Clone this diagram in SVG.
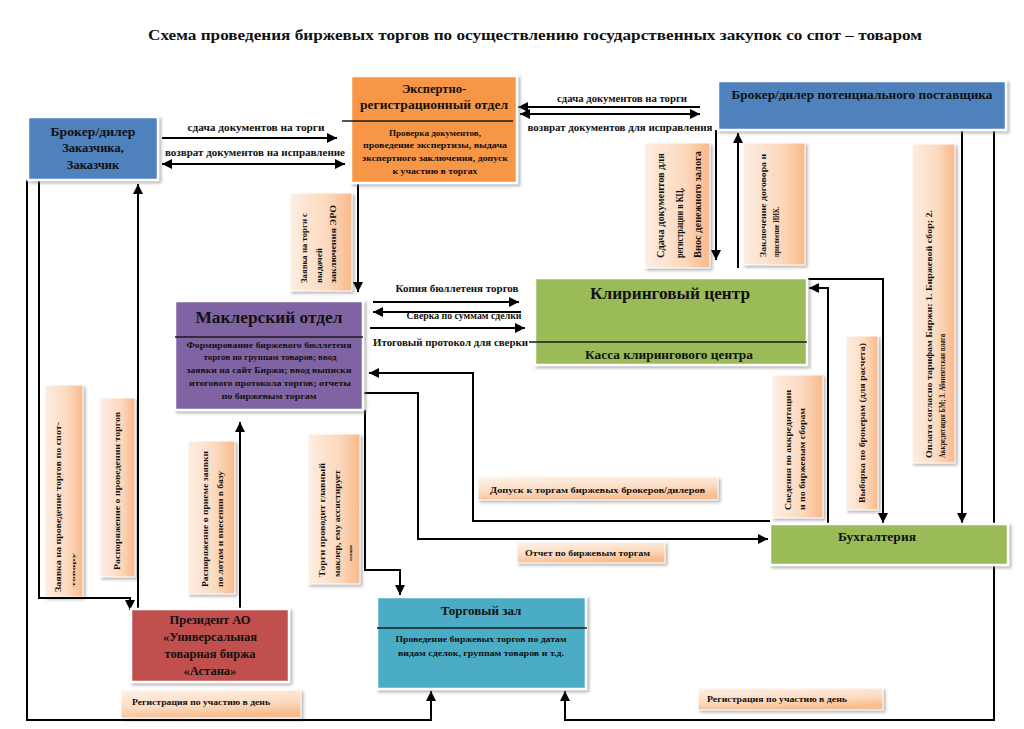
<svg xmlns="http://www.w3.org/2000/svg" width="1024" height="729" viewBox="0 0 1024 729">
<style>
.t{font-family:"Liberation Serif","DejaVu Serif",serif;font-weight:bold;fill:#111}
.c{text-anchor:middle}
.ttl{font-size:15px}
.nt{font-size:12.5px}
.sm{font-size:9px}
.lb{font-size:9px}
.box{stroke:#fff;stroke-width:2.5;filter:url(#sh)}
.lbox{fill:url(#gV);stroke:#fff;stroke-width:1;filter:url(#sh)}
.hbox{fill:url(#gH);stroke:#fff;stroke-width:1;filter:url(#sh)}
.div{stroke:#1a1a1a;stroke-width:1.3}
#connectors path{fill:none;stroke:#000;stroke-width:2}
.a{marker-end:url(#ah)}
.aa{marker-end:url(#ah);marker-start:url(#ah)}
</style>
<defs>
<filter id="sh" x="-10%" y="-10%" width="130%" height="130%">
<feDropShadow dx="2" dy="2" stdDeviation="1.5" flood-color="#777" flood-opacity="0.55"/>
</filter>
<linearGradient id="gV" x1="0" y1="0" x2="1" y2="0">
<stop offset="0" stop-color="#fdeee3"/><stop offset="0.6" stop-color="#fcd9bd"/><stop offset="1" stop-color="#f8b98a"/>
</linearGradient>
<linearGradient id="gH" x1="0" y1="0" x2="0.3" y2="1">
<stop offset="0" stop-color="#fdf1e7"/><stop offset="0.6" stop-color="#fcdcc2"/><stop offset="1" stop-color="#f8bd8e"/>
</linearGradient>
<marker id="ah" markerUnits="userSpaceOnUse" markerWidth="10" markerHeight="10" viewBox="0 0 10 10" refX="10" refY="5" orient="auto-start-reverse">
<path d="M0,0 L10,5 L0,10 z" fill="#000"/>
</marker>
</defs>
<rect width="1024" height="729" fill="#fff"/>
<text class="t ttl c" x="535" y="40" textLength="774" lengthAdjust="spacingAndGlyphs">Схема проведения биржевых торгов по осуществлению государственных закупок со спот – товаром</text>

<!-- label boxes -->
<g id="labels">
<rect class="lbox" x="290" y="193" width="62" height="98"/>
<text class="t lb" transform="translate(307,283) rotate(-90)" textLength="70" lengthAdjust="spacingAndGlyphs">Заявка на торги с</text>
<text class="t lb" transform="translate(322,283) rotate(-90)">выдачей</text>
<text class="t lb" transform="translate(336,283) rotate(-90)" textLength="78" lengthAdjust="spacingAndGlyphs">заключения ЭРО</text>

<rect class="lbox" x="645" y="143" width="65" height="125"/>
<text class="t" style="font-size:9.5px" transform="translate(664,258) rotate(-90)" textLength="105" lengthAdjust="spacingAndGlyphs">Сдача документов для</text>
<text class="t" style="font-size:9.5px" transform="translate(683,258) rotate(-90)" textLength="70" lengthAdjust="spacingAndGlyphs">регистрации в КЦ,</text>
<text class="t" style="font-size:9.5px" transform="translate(701,258) rotate(-90)" textLength="107" lengthAdjust="spacingAndGlyphs">Внос денежного залога</text>

<rect class="lbox" x="743" y="143" width="62" height="122"/>
<text class="t lb" transform="translate(766,257) rotate(-90)" textLength="103" lengthAdjust="spacingAndGlyphs">Заключение договора и</text>
<text class="t lb" transform="translate(779,257) rotate(-90)" textLength="50" lengthAdjust="spacingAndGlyphs">присвоение ИИК.</text>

<rect class="lbox" x="912" y="144" width="43" height="319"/>
<text class="t lb" transform="translate(932,458) rotate(-90)" textLength="248" lengthAdjust="spacingAndGlyphs">Оплата согласно тарифам Биржи: 1. Биржевой сбор; 2.</text>
<text class="t lb" transform="translate(945,458) rotate(-90)" textLength="124" lengthAdjust="spacingAndGlyphs">Аккредитация БМ; 3. Абонентская плата</text>

<rect class="lbox" x="45" y="385" width="38" height="212"/>
<text class="t lb" transform="translate(61,592) rotate(-90)" textLength="170" lengthAdjust="spacingAndGlyphs">Заявка на проведение торгов по спот-</text>
<text class="t" style="font-size:5px" transform="translate(75,587) rotate(-90)" textLength="34" lengthAdjust="spacingAndGlyphs">товару</text>

<rect class="lbox" x="100" y="398" width="35" height="179"/>
<text class="t lb c" transform="translate(120,491) rotate(-90)" textLength="158" lengthAdjust="spacingAndGlyphs">Распоряжение о проведении торгов</text>

<rect class="lbox" x="188" y="441" width="47" height="153"/>
<text class="t lb" transform="translate(208,587) rotate(-90)" textLength="136" lengthAdjust="spacingAndGlyphs">Распоряжение о приеме заявки</text>
<text class="t lb" transform="translate(223,587) rotate(-90)" textLength="116" lengthAdjust="spacingAndGlyphs">по лотам и внесении в базу</text>

<rect class="lbox" x="308" y="434" width="52" height="150"/>
<text class="t lb" transform="translate(325,577) rotate(-90)" textLength="114" lengthAdjust="spacingAndGlyphs">Торги проводит главный</text>
<text class="t lb" transform="translate(340,577) rotate(-90)" textLength="107" lengthAdjust="spacingAndGlyphs">маклер, ему ассистирует</text>
<text class="t" style="font-size:4.5px" transform="translate(352,561) rotate(-90)" textLength="16" lengthAdjust="spacingAndGlyphs">помощник</text>

<rect class="lbox" x="772" y="375" width="51" height="143"/>
<text class="t lb" transform="translate(791,510) rotate(-90)" textLength="120" lengthAdjust="spacingAndGlyphs">Сведения по аккредитации</text>
<text class="t lb" transform="translate(805,510) rotate(-90)" textLength="102" lengthAdjust="spacingAndGlyphs">и по биржевым сборам</text>

<rect class="lbox" x="846" y="336" width="32" height="174"/>
<text class="t lb" transform="translate(865,503) rotate(-90)" textLength="160" lengthAdjust="spacingAndGlyphs">Выборка по брокерам (для расчета)</text>

<rect class="hbox" x="478" y="477" width="240" height="23"/>
<text class="t lb" x="490" y="493" textLength="215" lengthAdjust="spacingAndGlyphs">Допуск к торгам биржевых брокеров/дилеров</text>

<rect class="hbox" x="517" y="542" width="148" height="21"/>
<text class="t lb" x="525" y="556" textLength="125" lengthAdjust="spacingAndGlyphs">Отчет по биржевым торгам</text>

<rect class="hbox" x="121" y="690" width="180" height="28"/>
<text class="t lb" x="132" y="705" textLength="138" lengthAdjust="spacingAndGlyphs">Регистрация по участию в день</text>

<rect class="hbox" x="698" y="688" width="185" height="22"/>
<text class="t lb" x="707" y="702" textLength="140" lengthAdjust="spacingAndGlyphs">Регистрация по участию в день</text>
</g>

<g id="connectors">
<path class="a" d="M162,138 H337"/>
<path class="aa" d="M162,164 H345"/>
<path class="a" d="M700,107 H518"/>
<path class="aa" d="M520,114 H700"/>
<path class="a" d="M358,184 V292"/>
<path class="a" d="M373,302 H519"/>
<path class="a" d="M521,312 H373"/>
<path class="a" d="M370,328 H525"/>
<path class="a" d="M770,521 H473 V373 H369"/>
<path class="a" d="M363,393 H418 V539 H768"/>
<path class="a" d="M365,410 V570 H400 V595"/>
<path class="a" d="M240,609 V422"/>
<path class="a" d="M138,609 V184"/>
<path class="a" d="M39,180 V598 H130 V610"/>
<path class="a" d="M27,180 V720 H431 V691"/>
<path class="a" d="M994,130 V720 H565 V691"/>
<path class="a" d="M716,130 V260"/>
<path class="a" d="M738,268 V133"/>
<path class="a" d="M962,130 V523"/>
<path class="a" d="M807,279 H883 V523"/>
<path class="a" d="M828,524 V288 H809"/>
</g>

<g id="edge-labels">
<text class="t c" style="font-size:10px" x="256" y="131" textLength="137" lengthAdjust="spacingAndGlyphs">сдача документов на торги</text>
<text class="t c" style="font-size:10px" x="255" y="156" textLength="180" lengthAdjust="spacingAndGlyphs">возврат документов на исправление</text>
<text class="t c" style="font-size:10px" x="622" y="102" textLength="130" lengthAdjust="spacingAndGlyphs">сдача документов на торги</text>
<text class="t c" style="font-size:10px" x="620" y="131" textLength="185" lengthAdjust="spacingAndGlyphs">возврат документов для исправления</text>
<text class="t c" style="font-size:10px" x="457" y="292" textLength="123" lengthAdjust="spacingAndGlyphs">Копия бюллетеня торгов</text>
<text class="t c" style="font-size:10px" x="464" y="319" textLength="115" lengthAdjust="spacingAndGlyphs">Сверка по суммам сделки</text>
<text class="t" style="font-size:10px" x="373" y="346" textLength="155" lengthAdjust="spacingAndGlyphs">Итоговый протокол для сверки</text>
</g>

<g id="broker-customer">
<rect class="box" x="28" y="117" width="130" height="63" fill="#4f81bd"/>
<text class="t nt c" x="93" y="136" textLength="85" lengthAdjust="spacingAndGlyphs">Брокер/дилер</text>
<text class="t nt c" x="93" y="152">Заказчика,</text>
<text class="t nt c" x="93" y="169">Заказчик</text>
</g>

<g id="expert-dept">
<rect class="box" x="351" y="76" width="166" height="107" fill="#f79646"/>
<text class="t nt c" x="434" y="93">Экспертно-</text>
<text class="t nt c" x="434" y="109" textLength="148" lengthAdjust="spacingAndGlyphs">регистрационный отдел</text>
<line class="div" x1="342" y1="121" x2="513" y2="121"/>
<text class="t sm c" x="435" y="136" textLength="92" lengthAdjust="spacingAndGlyphs">Проверка документов,</text>
<text class="t sm c" x="435" y="148" textLength="144" lengthAdjust="spacingAndGlyphs">проведение экспертизы, выдача</text>
<text class="t sm c" x="435" y="161" textLength="146" lengthAdjust="spacingAndGlyphs">экспертного заключения, допуск</text>
<text class="t sm c" x="435" y="174" textLength="85" lengthAdjust="spacingAndGlyphs">к участию в торгах</text>
</g>

<g id="broker-supplier">
<rect class="box" x="718" y="81" width="288" height="49" fill="#4f81bd"/>
<text class="t c" style="font-size:12px" x="862" y="99" textLength="261" lengthAdjust="spacingAndGlyphs">Брокер/дилер потенциального поставщика</text>
</g>

<g id="broker-dept">
<rect class="box" x="175" y="301" width="188" height="109" fill="#8064a2"/>
<text class="t c" style="font-size:17px" x="269" y="323" textLength="147" lengthAdjust="spacingAndGlyphs">Маклерский отдел</text>
<line class="div" x1="175" y1="337" x2="363" y2="337"/>
<text class="t sm c" x="269" y="348" textLength="165" lengthAdjust="spacingAndGlyphs">Формирование биржевого бюллетеня</text>
<text class="t sm c" x="270" y="360" textLength="133" lengthAdjust="spacingAndGlyphs">торгов по группам товаров; ввод</text>
<text class="t sm c" x="269" y="373" textLength="165" lengthAdjust="spacingAndGlyphs">заявки на сайт Биржи; ввод выписки</text>
<text class="t sm c" x="270" y="386" textLength="162" lengthAdjust="spacingAndGlyphs">итогового протокола торгов; отчеты</text>
<text class="t sm c" x="269" y="399" textLength="95" lengthAdjust="spacingAndGlyphs">по биржевым торгам</text>
</g>

<g id="clearing">
<rect class="box" x="535" y="278" width="272" height="87" fill="#9bbb59"/>
<text class="t c" style="font-size:16px" x="670" y="299" textLength="160" lengthAdjust="spacingAndGlyphs">Клиринговый центр</text>
<line class="div" x1="529" y1="342" x2="807" y2="342"/>
<text class="t nt c" x="669" y="359" textLength="168" lengthAdjust="spacingAndGlyphs">Касса клирингового центра</text>
</g>

<g id="accounting">
<rect class="box" x="770" y="524" width="238" height="41" fill="#9bbb59"/>
<text class="t nt c" x="877" y="541" textLength="78" lengthAdjust="spacingAndGlyphs">Бухгалтерия</text>
</g>

<g id="president">
<rect class="box" x="131" y="609" width="158" height="73" fill="#c0504d"/>
<text class="t nt c" x="210" y="624">Президент АО</text>
<text class="t nt c" x="210" y="641">«Универсальная</text>
<text class="t nt c" x="210" y="658">товарная биржа</text>
<text class="t nt c" x="210" y="675">«Астана»</text>
</g>

<g id="trading-hall">
<rect class="box" x="377" y="597" width="209" height="92" fill="#4bacc6"/>
<text class="t c" style="font-size:13px" x="481" y="615">Торговый зал</text>
<line class="div" x1="377" y1="628" x2="587" y2="628"/>
<text class="t sm c" x="481" y="642" textLength="171" lengthAdjust="spacingAndGlyphs">Проведение биржевых торгов по датам</text>
<text class="t sm c" x="481" y="656" textLength="166" lengthAdjust="spacingAndGlyphs">видам сделок,  группам товаров и т.д.</text>
</g>
</svg>
